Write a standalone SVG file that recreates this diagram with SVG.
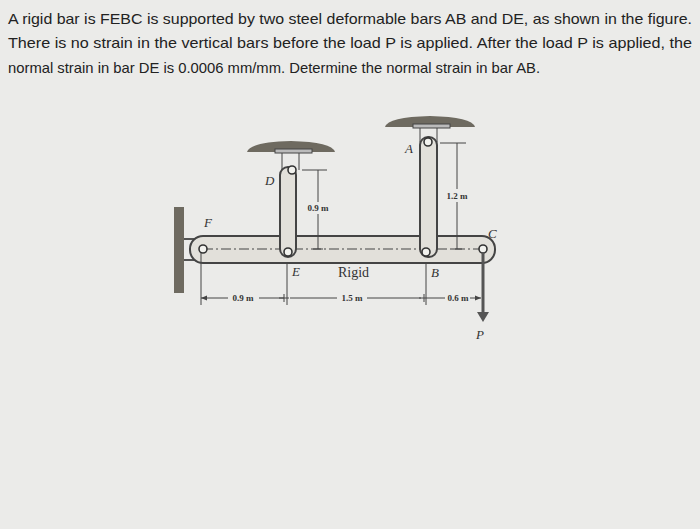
<svg xmlns="http://www.w3.org/2000/svg" width="700" height="529" viewBox="0 0 700 529">
<style>
.t{font-family:"Liberation Sans",Arial,sans-serif;font-size:14.8px;fill:#222}
.s{font-family:"Liberation Serif","Times New Roman",serif;fill:#333}
.lab{font-style:italic;font-size:13px}
.dim{font-size:9px;font-weight:bold}
.bar{fill:#e2e0da;stroke:#444;stroke-width:2}
.gnd{fill:#6e6a60}
.pin{fill:#f2f2ee;stroke:#333;stroke-width:1.6}
.ln{stroke:#444;stroke-width:1;fill:none}
</style>
<defs>
<marker id="ah" viewBox="0 0 10 10" refX="10" refY="5" markerWidth="6" markerHeight="6" orient="auto-start-reverse"><path d="M0,1 L10,5 L0,9z" fill="#444"/></marker>
</defs>
<rect width="700" height="529" fill="#ebebe9"/>
<text class="t" x="8" y="24" textLength="684" lengthAdjust="spacingAndGlyphs">A rigid bar is FEBC is supported by two steel deformable bars AB and DE, as shown in the figure.</text>
<text class="t" x="8" y="48" textLength="684" lengthAdjust="spacingAndGlyphs">There is no strain in the vertical bars before the load P is applied. After the load P is applied, the</text>
<text class="t" x="8" y="73">normal strain in bar DE is 0.0006 mm/mm. Determine the normal strain in bar AB.</text>
<g id="wall"><rect class="gnd" x="174" y="207" width="10" height="86"/><path d="M184,239 L200,239 M184,260 L200,260" stroke="#555" stroke-width="2"/></g>
<g id="ceilingD"><path class="gnd" d="M247,152 Q250,142 291,141 Q332,142 335,152Z"/><rect x="275" y="149" width="37" height="4" fill="#bbb" stroke="#444"/></g>
<g id="ceilingA"><path class="gnd" d="M385,127 Q388,117 430,116 Q472,117 475,127Z"/><rect x="413" y="124" width="37" height="4" fill="#bbb" stroke="#444"/></g>
<g id="bar-FEBC"><rect class="bar" x="190" y="236" width="305" height="27" rx="13"/><path class="ln" d="M203,249 H483" stroke-dasharray="10,3,2,3"/></g>
<g id="bar-DE"><path class="ln" d="M282,153 V170 M299,153 V170"/><rect class="bar" x="280" y="167" width="16" height="90" rx="8"/><circle class="pin" cx="292" cy="170" r="4"/><circle class="pin" cx="288" cy="252" r="4"/></g>
<g id="bar-AB"><path class="ln" d="M420,128 V142 M437,128 V142"/><rect class="bar" x="420" y="137" width="17" height="120" rx="8"/><circle class="pin" cx="428" cy="142" r="4"/><circle class="pin" cx="426" cy="252" r="4"/></g>
<circle class="pin" cx="203" cy="249" r="4"/><circle class="pin" cx="483" cy="249" r="4"/>
<g id="load-P"><line x1="483" y1="252" x2="483" y2="314" stroke="#555" stroke-width="3"/><path d="M477,312 L489,312 L483,322Z" fill="#555"/></g>
<g id="connectors">
<path class="ln" d="M302,170 H327 M318,170 V202 M318,214 V249 M313,249 H323"/>
<path class="ln" d="M440,143 H466 M457,143 V189 M457,202 V249 M452,249 H462"/>
<path class="ln" d="M201,253 V305 M287,263 V305 M426,263 V305"/>
<path class="ln" d="M201,298 H228" marker-start="url(#ah)"/><path class="ln" d="M259,298 H284 M284,294 V302 M279,298 H289"/>
<path class="ln" d="M290,298 H337 M367,298 H421 M424,294 V302 M419,298 H429"/>
<path class="ln" d="M429,298 H445 M470,298 H481" marker-end="url(#ah)"/>
</g>
<g id="labels" class="s">
<text class="lab" x="204" y="227">F</text><text class="lab" x="265" y="185">D</text><text class="lab" x="405" y="153">A</text>
<text class="lab" x="488" y="238">C</text><text class="lab" x="292" y="276">E</text><text class="lab" x="431" y="277">B</text>
<text class="lab" x="476" y="339">P</text>
<text x="338" y="277" font-size="14">Rigid</text>
<text class="dim" x="318" y="211" text-anchor="middle">0.9 m</text>
<text class="dim" x="457" y="199" text-anchor="middle">1.2 m</text>
<text class="dim" x="243" y="301" text-anchor="middle">0.9 m</text>
<text class="dim" x="352" y="301" text-anchor="middle">1.5 m</text>
<text class="dim" x="458" y="301" text-anchor="middle">0.6 m</text>
</g>
</svg>
